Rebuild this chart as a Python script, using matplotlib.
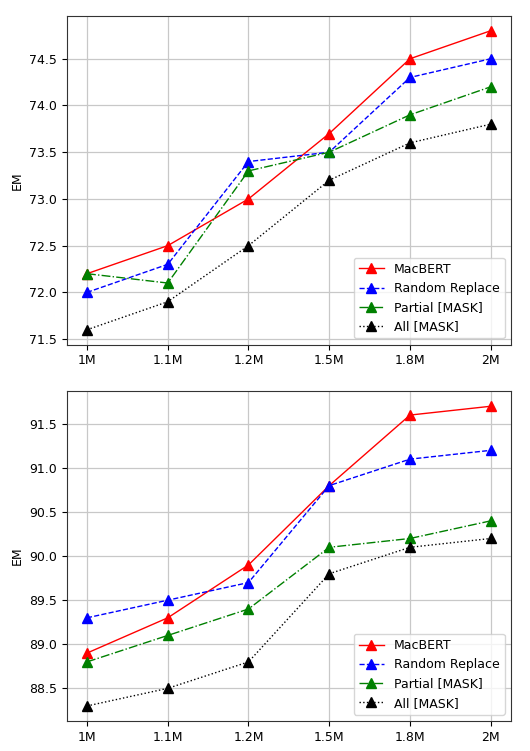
import matplotlib
matplotlib.use("Agg")
import matplotlib.pyplot as plt

sizes = ["1M", "1.1M", "1.2M", "1.5M", "1.8M", "2M"]

# top panel
macbert_top = [72.2, 72.5, 73.0, 73.7, 74.5, 74.8]
random_top = [72.0, 72.3, 73.4, 73.5, 74.3, 74.5]
partial_top = [72.2, 72.1, 73.3, 73.5, 73.9, 74.2]
allmask_top = [71.6, 71.9, 72.5, 73.2, 73.6, 73.8]

# bottom panel
macbert_bot = [88.9, 89.3, 89.9, 90.8, 91.6, 91.7]
random_bot = [89.3, 89.5, 89.7, 90.8, 91.1, 91.2]
partial_bot = [88.8, 89.1, 89.4, 90.1, 90.2, 90.4]
allmask_bot = [88.3, 88.5, 88.8, 89.8, 90.1, 90.2]

labels = ["MacBERT", "Random Replace", "Partial [MASK]", "All [MASK]"]
styles = [("r", "-"), ("b", "--"), ("g", "-."), ("k", ":")]

fig = plt.figure(figsize=(5.3, 7.51), dpi=100)
ax1 = fig.add_axes([0.126, 0.541, 0.838, 0.438])
ax2 = fig.add_axes([0.126, 0.040, 0.838, 0.439])

x = list(range(len(sizes)))
for ax, series in [(ax1, [macbert_top, random_top, partial_top, allmask_top]),
                   (ax2, [macbert_bot, random_bot, partial_bot, allmask_bot])]:
    for vals, lab, (c, ls) in zip(series, labels, styles):
        ax.plot(x, vals, color=c, linestyle=ls, marker="^", markersize=6.5,
                linewidth=1, label=lab)
    ax.set_xticks(x)
    ax.set_xticklabels(sizes, fontsize=9)
    ax.tick_params(axis="y", labelsize=9)
    ax.set_ylabel("EM", fontsize=9)
    ax.grid(True, color="#c8c8c8", linewidth=0.9)
    for s in ax.spines.values():
        s.set_color("#333333")
    ax.legend(loc="lower right", fontsize=9)

ax1.set_yticks([71.5, 72.0, 72.5, 73.0, 73.5, 74.0, 74.5])
ax1.set_yticklabels([f"{v:.1f}" for v in ax1.get_yticks()])
ax2.set_yticks([88.5, 89.0, 89.5, 90.0, 90.5, 91.0, 91.5])
ax2.set_yticklabels([f"{v:.1f}" for v in ax2.get_yticks()])

fig.savefig("out.png", dpi=100)
